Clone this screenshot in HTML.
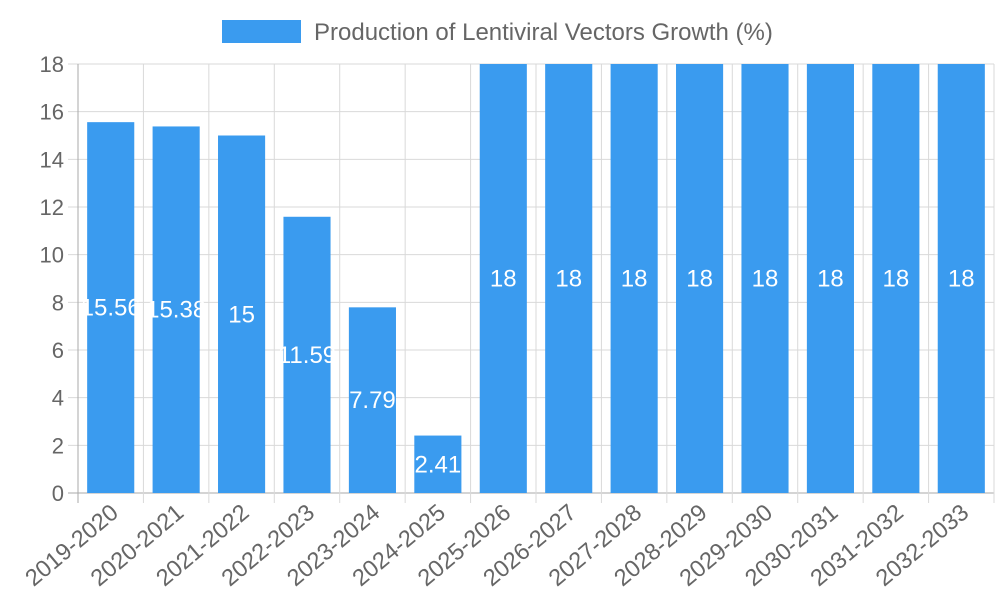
<!DOCTYPE html>
<html><head><meta charset="utf-8"><style>
body{margin:0;background:#fff;width:1000px;height:600px;overflow:hidden}
svg{font-family:"Liberation Sans",sans-serif}
</style></head><body>
<svg id="chart" width="1000" height="600">
<g>
<rect x="222" y="20" width="79" height="23" fill="#3a9bef"/>
<text x="314" y="40" font-size="24" fill="#666">Production of Lentiviral Vectors Growth (%)</text>
</g>
</svg>
<script>
const categories=["2019-2020","2020-2021","2021-2022","2022-2023","2023-2024","2024-2025","2025-2026","2026-2027","2027-2028","2028-2029","2029-2030","2030-2031","2031-2032","2032-2033"];
const values=[15.56,15.38,15,11.59,7.79,2.41,18,18,18,18,18,18,18,18];
const yTicks=[0,2,4,6,8,10,12,14,16,18];
const NS="http://www.w3.org/2000/svg",svg=document.getElementById('chart');
const L=78,R=994,T=64,B=493,yMax=18;
const bw=(R-L)/categories.length;
const y=v=>B-(v/yMax)*(B-T);
const x=i=>L+i*bw;
function mk(t,a){const e=document.createElementNS(NS,t);for(const k in a)e.setAttribute(k,a[k]);svg.appendChild(e);return e;}
yTicks.forEach(v=>{
 const g=mk('line',{x1:L-10,x2:R,y1:y(v),y2:y(v),stroke:v===0?'#aaa':'#d9d9d9','stroke-width':1});
 
 
 const t=mk('text',{x:L-14,y:y(v)+8,'text-anchor':'end','font-size':22,fill:'#666'});
 t.textContent=v;
 
 
});
for(let i=0;i<=categories.length;i++){
 const g=mk('line',{x1:x(i),x2:x(i),y1:T,y2:B+10,stroke:i===0?'#aaa':'#d9d9d9','stroke-width':1});
 
 
}
categories.forEach((c,i)=>{
 const cx=x(i)+bw/2,w=bw*0.72;
 const r=mk('rect',{x:cx-w/2,y:y(values[i]),width:w,height:B-y(values[i]),fill:'#3a9bef'});
 
 
 const t=mk('text',{x:cx,y:(y(values[i])+B)/2+8,'text-anchor':'middle','font-size':24,fill:'#fff'});
 t.textContent=values[i];
 
 
 const lx=cx+9,ly=B+22;
 const xl=mk('text',{x:lx,y:ly,'text-anchor':'end','font-size':23.5,fill:'#666',transform:`rotate(-40 ${lx} ${ly})`});
 xl.textContent=c;
 
 
});
</script>
</body></html>
